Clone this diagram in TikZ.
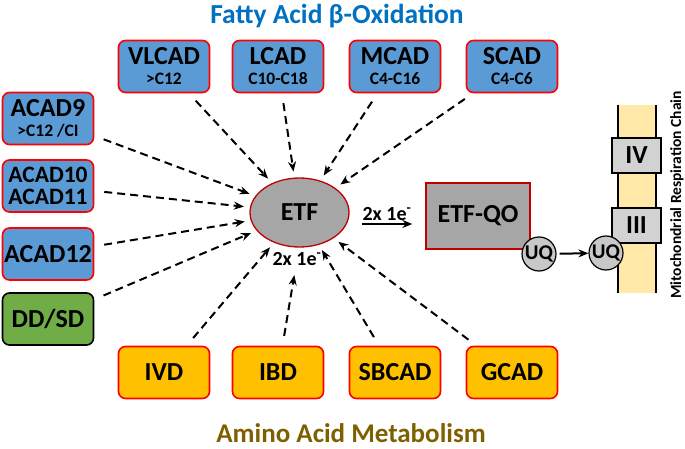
\documentclass[tikz,border=0pt]{standalone}
\usepackage{fontspec}
\setmainfont{Carlito}
\usepackage{tikz}
\usetikzlibrary{arrows.meta}
\usetikzlibrary{shapes.geometric}
\definecolor{faoblue}{RGB}{91, 155, 213}
\definecolor{aaorange}{RGB}{255, 192, 0}
\definecolor{ddgreen}{RGB}{112, 173, 71}
\definecolor{etfgray}{RGB}{166, 166, 166}
\definecolor{etfred}{RGB}{192, 0, 0}
\definecolor{uqgray}{RGB}{200, 200, 200}
\definecolor{cplxgray}{RGB}{210, 210, 210}
\definecolor{membrane}{RGB}{255, 232, 168}
\definecolor{titleblue}{RGB}{0, 112, 192}
\definecolor{titlebrown}{RGB}{127, 96, 0}
\newcommand{\fsz}[1]{\fontsize{#1}{#1}\selectfont}
\tikzset{
	enzyme/.style={draw=red, line width=1.6pt, rounded corners=7pt, minimum width=91pt, minimum height=52pt, inner sep=0pt, align=center, font=\bfseries\fsz{26}},
	faobox/.style={enzyme, fill=faoblue},
	aabox/.style={enzyme, fill=aaorange},
	toetf/.style={-{Stealth[length=10pt,width=8pt]}, line width=2pt, dash pattern=on 8pt off 5pt, shorten <=10pt, shorten >=6pt},
	eflow/.style={-{Stealth[length=10pt,width=8pt]}, line width=2pt}
}
\begin{document}
\begin{tikzpicture}[x=1pt, y=-1pt]
	\useasboundingbox (0,0) rectangle (685,449);
	
	% titles
	\node[text=titleblue, font=\bfseries\fsz{27.5}, inner sep=0pt] (fao) at (337,16) {Fatty Acid β-Oxidation};
	\node[text=titlebrown, font=\bfseries\fsz{27}, inner sep=0pt, text depth=0pt, anchor=base] (aam) at (351,442) {Amino Acid Metabolism};
	
	% fatty acid dehydrogenases
	\node[faobox] (vlcad) at (164,66.5) {VLCAD\\[-6pt]{\fsz{17.5}>C12}};
	\node[faobox] (lcad) at (278,66.5) {LCAD\\[-6pt]{\fsz{17.5}C10-C18}};
	\node[faobox] (mcad) at (395,66.5) {MCAD\\[-6pt]{\fsz{17.5}C4-C16}};
	\node[faobox] (scad) at (512,66.5) {SCAD\\[-6pt]{\fsz{17.5}C4-C6}};
	\node[faobox] (acad9) at (48,118.5) {ACAD9\\[-6pt]{\fsz{17.5}>C12 /CI}};
	\node[faobox, font=\bfseries\fontsize{23.5}{22}\selectfont] (acad10) at (48,186) {ACAD10\\ACAD11};
	\node[faobox] (acad12) at (48,254) {ACAD12};
	\node[enzyme, draw=black, fill=ddgreen] (ddsd) at (48,319) {DD/SD};
	
	% amino acid dehydrogenases
	\node[aabox] (ivd) at (164,372.5) {IVD};
	\node[aabox] (ibd) at (278,372.5) {IBD};
	\node[aabox] (sbcad) at (395,372.5) {SBCAD};
	\node[aabox] (gcad) at (512,372.5) {GCAD};
	
	% ETF and ETF-QO
	\node[ellipse, draw=etfred, line width=1.3pt, fill=etfgray, minimum width=99pt, minimum height=69pt, font=\bfseries\fsz{26}] (etf) at (299.5,212.5) {ETF};
	\node[font=\bfseries\fsz{20}] (elbl) at (297,259) {2x 1e\textsuperscript{-}};
	\node[draw=etfred, line width=1.3pt, fill=etfgray, minimum width=104pt, minimum height=66pt, font=\bfseries\fsz{26}] (etfqo) at (478,216) {ETF-QO};
	
	% respiration chain
	\fill[membrane] (618,105) rectangle (656,293);
	\draw[line width=1.3pt] (618,105) -- (618,293) (656,105) -- (656,293);
	\node[draw, line width=1.5pt, fill=cplxgray, minimum width=49pt, minimum height=35pt, font=\bfseries\fsz{26}] (civ) at (636.5,155.5) {IV};
	\node[draw, line width=1.5pt, fill=cplxgray, minimum width=49pt, minimum height=35pt, font=\bfseries\fsz{26}] (ciii) at (636.5,225.5) {III};
	\node[rotate=90, font=\bfseries\fsz{15.5}, inner sep=1pt] (chain) at (677,195) {Mitochondrial Respiration Chain};
	
	% ubiquinone
	\node[circle, draw, line width=1.2pt, fill=uqgray, minimum size=34pt, inner sep=0pt, font=\bfseries\fsz{21}] (uqa) at (539,254) {UQ};
	\node[circle, draw, line width=1.2pt, fill=uqgray, minimum size=34pt, inner sep=0pt, font=\bfseries\fsz{21}] (uqb) at (606,253) {UQ};
	
	% electron transfer to ETF
	\foreach \src in {vlcad, lcad, mcad, scad, acad9, acad10, acad12, ddsd, ivd, sbcad, gcad}
		\draw[toetf] (\src) -- (etf);
	\draw[toetf] (ibd) -- (elbl);
	
	% ETF -> ETF-QO -> UQ
	\draw[eflow] ([xshift=12pt,yshift=-11.5pt]etf.east) -- node[above=-1pt, font=\bfseries\fsz{20}] (qolbl) {2x 1e\textsuperscript{-}} ([xshift=-13pt,yshift=-8pt]etfqo.west);
	\draw[eflow, shorten <=3pt] (uqa) -- (uqb);
\end{tikzpicture}
\end{document}
